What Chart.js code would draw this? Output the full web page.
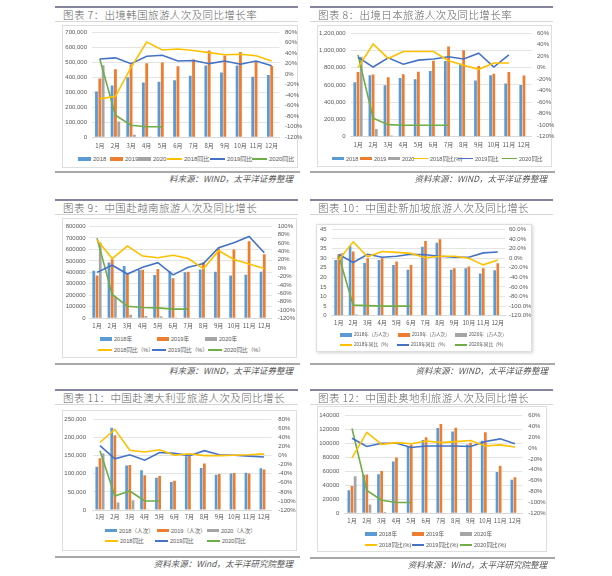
<!DOCTYPE html>
<html lang="zh-CN">
<head>
<meta charset="UTF-8">
<title>出境旅游人次及同比增长</title>
<script src="https://cdn.jsdelivr.net/npm/chart.js@4"></script>
<style>
  html, body { margin: 0; padding: 0; background: #fff; }
  body { position: relative; width: 612px; height: 576px; overflow: hidden;
         font-family: "Noto Sans CJK SC", sans-serif; }
  .a { position: absolute; }
  .top-line { background: #84849f; }
  .sub-line { background: #d6d6d6; }
  .bot-line { background: #a8a8a8; }
  .title { font-size: 10.5px; line-height: 14px; color: #626262; white-space: nowrap; letter-spacing: 0.4px; font-weight: 300; }
  .box { border: 1px solid #dedede; box-sizing: border-box; }
  .box.shadow { box-shadow: 1px 1px 3px rgba(0,0,0,0.18); }
  .src { font-size: 8.5px; line-height: 12px; color: #555; font-style: italic; white-space: nowrap; text-align: right; }
  .lg { line-height: 8px; color: #595959; white-space: nowrap;
        font-family: "Liberation Sans", "Noto Sans CJK SC", sans-serif; }
  canvas { position: absolute; }
</style>
</head>
<body>
<script>
const months = ['1月', '2月', '3月', '4月', '5月', '6月', '7月', '8月', '9月', '10月', '11月', '12月'];

// 图表7 出境韩国
const krTitle = '图表 7：出境韩国旅游人次及同比增长率';
const krSource = '料来源：WIND，太平洋证券整理';
const krLegend = ['2018', '2019', '2020', '2018同比', '2019同比', '2020同比'];
const kr2018 = [305000, 345000, 400000, 365000, 370000, 380000, 410000, 477000, 432000, 477000, 403000, 415000];
const kr2019 = [392000, 453000, 485000, 492000, 498000, 472000, 517000, 577000, 545000, 567000, 505000, 475000];
const kr2020 = [480000, 105000, 17000, 5000, 3000];
const krYoy2018 = [-47, -42, 13, 61, 46, 48, 45, 41, 37, 38, 35, 25];
const krYoy2019 = [29, 31, 20, 34, 36, 25, 26, 20, 25, 19, 25, 16];
const krYoy2020 = [29, -78, -97, -100, -100];
const krLeftAxis = [0, 700000, 100000];
const krRightAxis = [-120, 80, 20];

// 图表8 出境日本
const jpTitle = '图表 8：出境日本旅游人次及同比增长率';
const jpSource = '资料来源：WIND，太平洋证券整理';
const jpLegend = ['2018', '2019', '2020', '2018同比(%)', '2019同比', '2020同比'];
const jp2018 = [630000, 712000, 595000, 680000, 665000, 760000, 878000, 845000, 652000, 712000, 615000, 598000];
const jp2019 = [750000, 720000, 690000, 722000, 752000, 880000, 1045000, 1000000, 820000, 728000, 750000, 710000];
const jp2020 = [925000, 88000, 15000, 5000, 3000, 3000, 4000];
const jpYoy2018 = [0, 41, 16, 28, 28, 28, 12, 4, -3, 8, 8, null];
const jpYoy2019 = [18, 1, 17, 6, 13, 15, 19, 15, 25, 1, 22, null];
const jpYoy2020 = [22, -88, -99, -100, -100, -100, -100];
const jpLeftAxis = [0, 1200000, 200000];
const jpRightAxis = [-120, 60, 20];

// 图表9 越南
const vnTitle = '图表 9：中国赴越南旅游人次及同比增长';
const vnSource = '料来源：WIND，太平洋证券整理';
const vnLegend = ['2018年', '2019年', '2020年', '2018同比（%）', '2019同比（%）', '2020同比（%）'];
const vn2018 = [415000, 485000, 455000, 420000, 378000, 408000, 400000, 425000, 405000, 372000, 380000, 405000];
const vn2019 = [372000, 515000, 388000, 422000, 430000, 348000, 405000, 490000, 610000, 598000, 670000, 557000];
const vn2020 = [660000, 190000, 30000, 20000, 18000, 8000, 5000];
const vnYoy2018 = [68, 23, 53, 29, 25, 31, 23, -1, 42, 21, 10, -1];
const vnYoy2019 = [-10, 7, -14, 2, 13, -16, 2, 11, 49, 61, 76, 37];
const vnYoy2020 = [72, -63, -91, -94, -95, -98, -98];
const vnLeftAxis = [0, 800000, 100000];
const vnRightAxis = [-120, 100, 20];

// 图表10 新加坡（万人次）
const sgTitle = '图表 10：中国赴新加坡旅游人次及同比增长';
const sgSource = '资料来源：WIND，太平洋证券整理';
const sgLegend = ['2018年（万人次）', '2019年（万人次）', '2020年（万人次）', '2018年同比（%）', '2019年同比（%）', '2020年同比（%）'];
const sg2018 = [29, 36.5, 27.5, 29, 26.5, 24, 36, 38, 24, 24.7, 22, 23.7];
const sg2019 = [32, 33.5, 30, 30, 28.3, 26.5, 39, 39.8, 24.7, 25.7, 24.7, 27.3];
const sg2020 = [32.5, 0.6];
const sgYoy2018 = [-4, 34, 3, 14, 12, 10, 1, 4, 4, 0, -14, -4];
const sgYoy2019 = [8, -9, 8, 2, 4, 8, 7, 4, 2, 2, 11, 13];
const sgYoy2020 = [5, -98, -99, -100, -100, -100];
const sgLeftAxis = [0, 45, 5];
const sgRightAxis = [-120, 60, 20];

// 图表11 澳大利亚
const auTitle = '图表 11：中国赴澳大利亚旅游人次及同比增长';
const auSource = '资料来源：Wind，太平洋研究院整理';
const auLegend = ['2018（人次）', '2019（人次）', '2020（人次）', '2018同比', '2019同比', '2020同比'];
const au2018 = [119000, 227000, 123000, 110000, 89000, 77000, 148000, 116000, 97000, 101000, 102500, 115000];
const au2019 = [143000, 206000, 124000, 96000, 94000, 81000, 148000, 128000, 99000, 102000, 101000, 111500];
const au2020 = [155600, 20700, 27000, 2000, 1500];
const auYoy2018 = [29, 58, 12, 8, 13, 1, 4, 0, 0, 1, 2, 4];
const auYoy2019 = [22, -7, 2, -10, 7, 5, 0, 11, 2, 1, -1, -3];
const auYoy2020 = [11, -89, -78, -100, -100];
const auLeftAxis = [0, 250000, 50000];
const auRightAxis = [-120, 80, 20];

// 图表12 奥地利
const atTitle = '图表 12：中国赴奥地利旅游人次及同比增长';
const atSource = '资料来源：Wind，太平洋研究院整理';
const atLegend = ['2018年', '2019年', '2020年', '2018同比(%)', '2019同比(%)', '2020同比(%)'];
const at2018 = [33000, 55000, 56000, 74000, 96000, 105000, 122000, 117000, 98600, 104000, 59000, 48000];
const at2019 = [39000, 55400, 60600, 80000, 98600, 109000, 128000, 122600, 101000, 116000, 68000, 51700];
const at2020 = [53000, 12700, 2000];
const atYoy2018 = [-18, 29, 7, 10, 8, 13, 10, 12, 14, 4, 6, 2];
const atYoy2019 = [18, 3, 9, 9, 1, 4, 4, 4, 3, 12, 17, 8];
const atYoy2020 = [36, -78, -96, -100, -100];
const atLeftAxis = [0, 140000, 20000];
const atRightAxis = [-120, 60, 20];

const barColors = ['#5b9bd5', '#ed7d31', '#a5a5a5'];
const lineColors = ['#ffc000', '#4472c4', '#70ad47'];

const fmt = {
  comma: v => v.toLocaleString('en-US'),
  plain: v => String(v),
  pct: v => v + '%',
  pct1: v => v.toFixed(1) + '%'
};

// page layout: plot = [left, top, right, bottom], pad = [left ticks, right ticks, x ticks]
const panels = [
  { title: krTitle, source: krSource, legend: krLegend, bars: [kr2018, kr2019, kr2020], lines: [krYoy2018, krYoy2019, krYoy2020],
    left: krLeftAxis, right: krRightAxis, leftFmt: 'comma', rightFmt: 'pct',
    col: 0, top: 7, box: [62, 25, 236, 143], bottom: 171, srcRight: 293,
    plot: [92, 31, 279.5, 137.3], pad: [5, 5.5, 5.2], lgSize: 6,
    legendPos: [[78, 159, 13], [110, 159, 13], [138, 159, 13], [167, 159, 15], [210, 159, 15], [252, 159, 15]] },
  { title: jpTitle, source: jpSource, legend: jpLegend, bars: [jp2018, jp2019, jp2020], lines: [jpYoy2018, jpYoy2019, jpYoy2020],
    left: jpLeftAxis, right: jpRightAxis, leftFmt: 'comma', rightFmt: 'pct',
    col: 1, top: 7, box: [317, 25, 235, 142], bottom: 171, srcRight: 547,
    plot: [350.5, 32.3, 531.5, 136.7], pad: [4.8, 5.5, 4.8], lgSize: 5.6,
    legendPos: [[332, 158.7, 12], [360, 158.7, 12], [388, 158.7, 12], [413, 158.7, 15], [458, 158.7, 15], [502, 158.7, 15]] },
  { title: vnTitle, source: vnSource, legend: vnLegend, bars: [vn2018, vn2019, vn2020], lines: [vnYoy2018, vnYoy2019, vnYoy2020],
    left: vnLeftAxis, right: vnRightAxis, leftFmt: 'plain', rightFmt: 'pct',
    col: 0, top: 200, box: [62, 218, 235, 140], bottom: 363, srcRight: 293,
    plot: [89.4, 225, 271.9, 318.3], pad: [3.7, 5.8, 4.2], lgSize: 5.6,
    legendPos: [[100, 339, 12], [157, 339, 12], [205, 339, 12], [98, 350, 14], [152, 350, 14], [208, 350, 14]] },
  { title: sgTitle, source: sgSource, legend: sgLegend, bars: [sg2018, sg2019, sg2020], lines: [sgYoy2018, sgYoy2019, sgYoy2020],
    left: sgLeftAxis, right: sgRightAxis, leftFmt: 'plain', rightFmt: 'pct1', shadow: true,
    col: 1, top: 200, box: [316, 224, 216, 128], bottom: 363, srcRight: 548,
    plot: [331.5, 229.3, 505, 315.7], pad: [4.8, 4, 3.5], lgSize: 4.6,
    legendPos: [[340, 335, 12], [398, 335, 12], [455, 335, 12], [340, 345, 12], [397, 345, 12], [455, 345, 12]] },
  { title: auTitle, source: auSource, legend: auLegend, bars: [au2018, au2019, au2020], lines: [auYoy2018, auYoy2019, auYoy2020],
    left: auLeftAxis, right: auRightAxis, leftFmt: 'comma', rightFmt: 'pct',
    col: 0, top: 390, box: [62, 410, 235, 141], bottom: 556, srcRight: 293,
    plot: [92.5, 417.3, 271.5, 510], pad: [6.5, 6.8, 3.5], lgSize: 5.6,
    legendPos: [[105, 530.7, 12], [157, 530.7, 12], [207, 530.7, 12], [105, 541, 13], [155, 541, 13], [207, 541, 13]] },
  { title: atTitle, source: atSource, legend: atLegend, bars: [at2018, at2019, at2020], lines: [atYoy2018, atYoy2019, atYoy2020],
    left: atLeftAxis, right: atRightAxis, leftFmt: 'plain', rightFmt: 'pct',
    col: 1, top: 390, box: [317, 406, 230, 146], bottom: 557, srcRight: 547,
    plot: [344.6, 414, 522.4, 513.3], pad: [5.3, 5.9, 3.9], lgSize: 5.6,
    legendPos: [[365, 534, 12], [412, 534, 12], [460, 534, 12], [365, 545, 12], [412, 545, 12], [460, 545, 12]] }
];

function div(cls, x, y, w, h, text) {
  const d = document.createElement('div');
  d.className = 'a ' + cls;
  d.style.left = x + 'px';
  d.style.top = y + 'px';
  if (w != null) d.style.width = w + 'px';
  if (h != null) d.style.height = h + 'px';
  if (text != null) d.textContent = text;
  document.body.appendChild(d);
  return d;
}

Chart.defaults.font.family = '"Liberation Sans", "Noto Sans CJK SC", sans-serif';
Chart.defaults.font.size = 6;
Chart.defaults.color = '#595959';

panels.forEach(p => {
  const colX = p.col ? 310 : 55, colW = 243;

  // frame, title and source
  div('top-line', colX, p.top - 1, colW, 2);
  div('title', colX + 8, p.top + 1, null, 14, p.title);
  div('sub-line', colX, p.top + 14, colW, 1);
  div('box' + (p.shadow ? ' shadow' : ''), p.box[0], p.box[1], p.box[2], p.box[3]);
  div('bot-line', colX, p.bottom, colW + 2, 1.5);
  div('src', p.srcRight - 300, p.bottom + 1, 300, 12, p.source);

  // legend
  p.legendPos.forEach(([x, y, w], i) => {
    const isLine = i >= 3;
    const sw = div('', x, isLine ? y - 0.75 : y - 1.75, w, isLine ? 1.5 : 3.5);
    sw.style.background = isLine ? lineColors[i - 3] : barColors[i];
    div('lg', x + w + 2, y - 4, null, 8, p.legend[i]).style.fontSize = p.lgSize + 'px';
  });

  // canvas sized so that the chart area lands on p.plot
  const [l, t, r, b] = p.plot;
  const cx = Math.floor(l) - 40, cy = Math.floor(t) - 8;
  const cw = Math.ceil(r) + 40 - cx, ch = Math.ceil(b) + 16 - cy;
  const wl = l - cx, wr = cx + cw - r, padTop = t - cy, xh = cy + ch - b;
  const cv = document.createElement('canvas');
  cv.width = cw;
  cv.height = ch;
  cv.style.left = cx + 'px';
  cv.style.top = cy + 'px';
  cv.style.width = cw + 'px';
  cv.style.height = ch + 'px';
  document.body.appendChild(cv);

  const datasets = [];
  p.bars.forEach((data, i) => datasets.push({
    type: 'bar', label: p.legend[i], data, yAxisID: 'y', order: 2,
    backgroundColor: barColors[i], categoryPercentage: 0.64, barPercentage: 0.85
  }));
  p.lines.forEach((data, i) => datasets.push({
    type: 'line', label: p.legend[i + 3], data, yAxisID: 'y1', order: 1,
    borderColor: lineColors[i], borderWidth: 1.6, pointRadius: 0, tension: 0, fill: false
  }));

  new Chart(cv, {
    type: 'bar',
    data: { labels: months, datasets },
    options: {
      responsive: false,
      animation: false,
      layout: { padding: { top: padTop, left: 0, right: 0, bottom: 0 } },
      plugins: { legend: { display: false }, tooltip: { enabled: false } },
      scales: {
        x: {
          grid: { display: false, drawTicks: false },
          border: { color: '#d9d9d9' },
          ticks: { autoSkip: false, maxRotation: 0, minRotation: 0, padding: p.pad[2],
                   font: { family: '"Noto Sans CJK SC", sans-serif', size: 6 } },
          afterFit: s => { s.height = xh; }
        },
        y: {
          position: 'left',
          min: p.left[0], max: p.left[1],
          ticks: { stepSize: p.left[2], autoSkip: false, padding: p.pad[0], callback: fmt[p.leftFmt] },
          grid: { color: '#e4e4e4', drawTicks: false },
          border: { display: false },
          afterFit: s => { s.width = wl; }
        },
        y1: {
          position: 'right',
          min: p.right[0], max: p.right[1],
          ticks: { stepSize: p.right[2], autoSkip: false, padding: p.pad[1], callback: fmt[p.rightFmt] },
          grid: { display: false, drawTicks: false },
          border: { display: false },
          afterFit: s => { s.width = wr; }
        }
      }
    }
  });
});
</script>
</body>
</html>
